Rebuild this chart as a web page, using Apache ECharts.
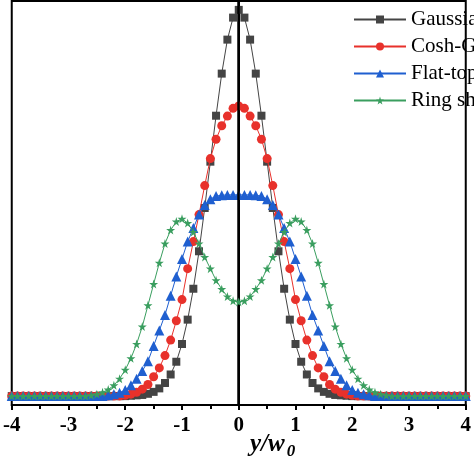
<!DOCTYPE html><html><head><meta charset="utf-8">
<script src="https://cdn.jsdelivr.net/npm/echarts@6/dist/echarts.min.js"></script>
<style>html,body{margin:0;padding:0;background:#fff}#c{width:474px;height:474px}</style></head><body><div id="c"></div>
<script>
const xs=[-4,-3.9,-3.8,-3.7,-3.6,-3.5,-3.4,-3.3,-3.2,-3.1,-3,-2.9,-2.8,-2.7,-2.6,-2.5,-2.4,-2.3,-2.2,-2.1,-2,-1.9,-1.8,-1.7,-1.6,-1.5,-1.4,-1.3,-1.2,-1.1,-1,-0.9,-0.8,-0.7,-0.6,-0.5,-0.4,-0.3,-0.2,-0.1,0,0.1,0.2,0.3,0.4,0.5,0.6,0.7,0.8,0.9,1,1.1,1.2,1.3,1.4,1.5,1.6,1.7,1.8,1.9,2,2.1,2.2,2.3,2.4,2.5,2.6,2.7,2.8,2.9,3,3.1,3.2,3.3,3.4,3.5,3.6,3.7,3.8,3.9,4];
const gaussian=[0,0,0,0,0,0,0,0,0,0,0,0,0,0,0,0,0,0,0,0,0,.001,.002,.003,.006,.011,.02,.034,.056,.089,.135,.198,.278,.375,.487,.607,.726,.835,.923,.98,1,.98,.923,.835,.726,.607,.487,.375,.278,.198,.135,.089,.056,.034,.02,.011,.006,.003,.002,.001,0,0,0,0,0,0,0,0,0,0,0,0,0,0,0,0,0,0,0,0,0];
const coshG=[0,0,0,0,0,0,0,0,0,0,0,0,0,0,0,0,0,0,0,0,.002,.005,.01,.018,.03,.05,.073,.105,.145,.195,.25,.33,.40,.47,.545,.615,.665,.70,.725,.745,.751,.745,.725,.70,.665,.615,.545,.47,.40,.33,.25,.195,.145,.105,.073,.05,.03,.018,.01,.005,.002,0,0,0,0,0,0,0,0,0,0,0,0,0,0,0,0,0,0,0,0];
const flatTop=[0,0,0,0,0,0,0,0,0,0,0,0,0,0,0,0,0,.002,.005,.009,.016,.028,.045,.065,.09,.13,.17,.21,.26,.31,.355,.40,.435,.47,.495,.51,.518,.52,.521,.521,.521,.521,.521,.52,.518,.51,.495,.47,.435,.40,.355,.31,.26,.21,.17,.13,.09,.065,.045,.028,.016,.009,.005,.002,0,0,0,0,0,0,0,0,0,0,0,0,0,0,0,0,0];
const ring=[0,0,0,0,0,0,0,0,0,0,0,0,0,0,.002,.005,.01,.017,.028,.045,.068,.098,.135,.18,.235,.29,.345,.395,.43,.452,.459,.448,.425,.395,.36,.33,.30,.277,.258,.247,.244,.247,.258,.277,.30,.33,.36,.395,.425,.448,.459,.452,.43,.395,.345,.29,.235,.18,.135,.098,.068,.045,.028,.017,.01,.005,.002,0,0,0,0,0,0,0,0,0,0,0,0,0,0];
const names=['Gaussian','Cosh-Gaussian','Flat-topped','Ring shaped'];
const tickLabels=['-4','-3','-2','-1','0','1','2','3','4'];
const star='path://M50,0 L61,35 L98,35 L68,57 L79,91 L50,70 L21,91 L32,57 L2,35 L39,35 Z';
const cfg=[[gaussian,'#444444','rect',8],[coshG,'#e8312b','circle',9],[flatTop,'#1f5fd0','triangle',10],[ring,'#3a9e5f',star,9]];
const series=cfg.map((c,i)=>({name:names[i],type:'line',data:xs.map((x,j)=>[x,c[0][j]]),symbol:c[2],symbolSize:c[3],showSymbol:true,
 lineStyle:{color:c[1],width:1},itemStyle:{color:c[1]},z:2+i,animation:false}));
series[0].markLine={silent:true,symbol:'none',label:{show:false},lineStyle:{color:'#000',width:2.5,type:'solid'},data:[{xAxis:0}]};
const chart=echarts.init(document.getElementById('c'));
chart.setOption({animation:false,
 grid:{left:1,width:552,top:1,height:404,show:true,borderColor:'#000',borderWidth:2},
 legend:{orient:'vertical',left:348,top:4,itemWidth:52,itemHeight:10,itemGap:6,data:names,
  textStyle:{fontFamily:'Liberation Serif',fontSize:21,color:'#000'}},
 xAxis:{type:'value',min:-4,max:4,interval:1,axisLine:{onZero:false,lineStyle:{color:'#000',width:2}},
  axisTick:{length:5,lineStyle:{width:2}},minorTick:{show:true,splitNumber:2,length:4,lineStyle:{color:'#000',width:2}},
  splitLine:{show:false},axisLabel:{formatter:v=>tickLabels[v+4],fontFamily:'Liberation Serif',fontWeight:'bold',fontSize:21,color:'#000',margin:10}},
 yAxis:{type:'value',min:-0.023,max:1.023,axisLabel:{show:false},axisTick:{show:false},splitLine:{show:false},axisLine:{show:true,lineStyle:{color:'#000',width:2}}},
 graphic:[{type:'text',left:250,top:432,style:{rich:{a:{fontFamily:'Liberation Serif',fontStyle:'italic',fontWeight:'bold',fontSize:25,fill:'#000'},b:{fontFamily:'Liberation Serif',fontStyle:'italic',fontWeight:'bold',fontSize:17,fill:'#000',verticalAlign:'bottom',padding:[14,0,0,2]}},text:'{a|y/w}{b|0}'}}],
 series});
</script></body></html>
